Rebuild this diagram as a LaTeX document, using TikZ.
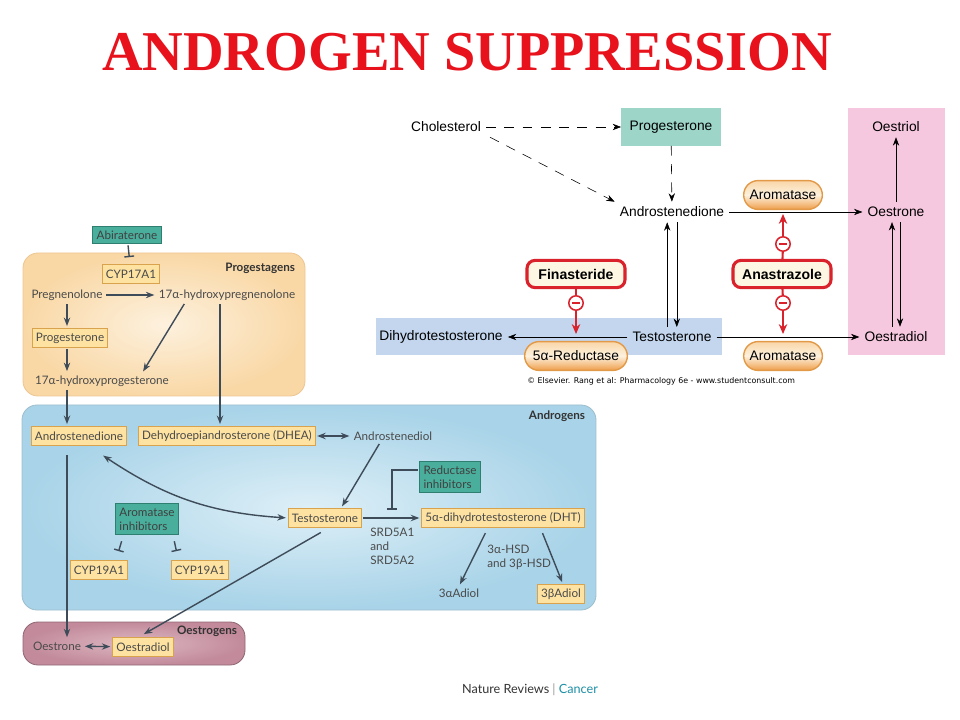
\documentclass[tikz,border=0pt]{standalone}
\usepackage{fontspec}
\setmainfont{Liberation Sans}
\newfontfamily\natfont{Lato}
\newfontfamily\titlefont{Liberation Serif}
\newfontfamily\creditfont{DejaVu Sans}
\usetikzlibrary{positioning,arrows.meta,calc,shapes.misc}

\definecolor{titlered}{HTML}{E8121C}
\definecolor{progteal}{HTML}{9DD5C8}
\definecolor{oestpink}{HTML}{F6C8DF}
\definecolor{dhtblue}{HTML}{C3D6EE}
\definecolor{inhred}{HTML}{D9222B}
\definecolor{drugfill}{HTML}{FDF6E2}
\definecolor{pillrim}{HTML}{E39A48}
\definecolor{pilltop}{HTML}{F9D6A8}
\definecolor{pillmid}{HTML}{FDF1DE}
\definecolor{pillbot}{HTML}{EE9E4A}
\definecolor{natarrow}{HTML}{3E4B58}
\definecolor{nattext}{HTML}{4A4A4A}
\definecolor{boxfill}{HTML}{FDE2A2}
\definecolor{boxrim}{HTML}{D9A24C}
\definecolor{tealfill}{HTML}{4AAE9C}
\definecolor{tealrim}{HTML}{2F7F70}
\definecolor{natteal}{HTML}{1C8FA6}
\definecolor{progin}{HTML}{FDF1DE}
\definecolor{progout}{HTML}{F9D8A6}
\definecolor{andin}{HTML}{DDEFF7}
\definecolor{andout}{HTML}{A8D3E8}
\definecolor{oestin}{HTML}{DDB7C1}
\definecolor{oestout}{HTML}{C28A9B}

\begin{document}
\begin{tikzpicture}[
  x=0.025cm, y=-0.025cm,
  >={Stealth[length=6pt,width=4.5pt]},
  plain/.style={font=\fontsize{9.8}{11}\selectfont,inner sep=3.5pt},
  pill/.style={rounded rectangle,draw=pillrim,line width=1pt,
               top color=pilltop,bottom color=pillbot,middle color=pillmid,
               minimum width=2.2cm,minimum height=0.72cm,
               font=\fontsize{9.8}{11}\selectfont},
  drug/.style={draw=inhred,line width=2.2pt,rounded corners=0.2cm,fill=drugfill,
               minimum width=2.45cm,minimum height=0.68cm,
               font=\fontsize{10}{12}\selectfont\bfseries},
  minus/.style={circle,draw=inhred,fill=white,line width=1.1pt,
                minimum size=0.36cm,inner sep=0pt},
  inhline/.style={draw=inhred,line width=1.5pt},
  ntext/.style={font=\natfont\fontsize{8.3}{10}\selectfont,text=nattext,inner sep=1.5pt},
  nbox/.style={ntext,fill=boxfill,draw=boxrim,line width=0.6pt,
               minimum height=0.47cm,inner xsep=2.5pt},
  tealbox/.style={ntext,fill=tealfill,draw=tealrim,line width=0.6pt,
                  text=black!75,align=left,inner sep=3pt},
  nlabel/.style={font=\natfont\fontsize{8.3}{10}\selectfont\bfseries,
                 text=black!80,anchor=east},
  narrow/.style={draw=natarrow,line width=1pt,shorten >=1.5pt,shorten <=1pt},
  panel/.style={rounded corners=0.375cm,line width=0.6pt}]

\useasboundingbox (0,0) rectangle (960,720);

% ============ Title ============
\node[font=\titlefont\bfseries\fontsize{40}{44}\selectfont,text=titlered]
  (title) at (467,52) {ANDROGEN SUPPRESSION};

% ============ Right: Rang et al. scheme ============
\fill[oestpink] (848,108) rectangle (945,355);
\fill[dhtblue] (376,318) rectangle (722,355);

\node[plain] (chol) at (446,127) {Cholesterol};
\node[plain,fill=progteal,minimum width=2.48cm,minimum height=0.93cm]
  (prog) at (671,127) {Progesterone};
\node[plain] (andro) at (672,212) {Androstenedione};
\node[plain] (testo) at (672,337) {Testosterone};
\node[plain] (dht) at (441,337) {Dihydrotestosterone};
\node[plain] (oestriol) at (896,127) {Oestriol};
\node[plain] (oestrone) at (896,212) {Oestrone};
\node[plain] (oestradiol) at (896,337) {Oestradiol};

% dashed routes from cholesterol
\draw[->,dashed,dash pattern=on 7pt off 6pt] (chol) -- (prog);
\draw[->,dashed,dash pattern=on 7pt off 6pt] ($(chol.south east)+(4,0)$) -- (andro.north west);
\draw[->,dashed,dash pattern=on 7pt off 6pt] (prog) -- (andro);

% interconversions
\draw[->] ([xshift=-0.12cm]testo.north) -- ([xshift=-0.12cm]andro.south);
\draw[->] ([xshift=0.12cm]andro.south) -- ([xshift=0.12cm]testo.north);
\draw[->] ([xshift=-0.1cm]oestradiol.north) -- ([xshift=-0.1cm]oestrone.south);
\draw[->] ([xshift=0.1cm]oestrone.south) -- ([xshift=0.1cm]oestradiol.north);
\draw[->] (oestrone) -- (oestriol);
\draw[->] (andro) -- (oestrone);
\draw[->] (testo) -- (oestradiol);
\draw[->] (testo) -- (dht);

% enzymes
\node[pill] (arom1) at (783,195) {Aromatase};
\node[pill] (arom2) at (783,356) {Aromatase};
\node[pill,minimum width=2.8cm] (red5) at (576,356) {5α-Reductase};

% drugs
\node[drug] (fin) at (576,274) {Finasteride};
\node[drug] (ana) at (782,274) {Anastrazole};
\node[minus] (mfin) at (576,303) {\color{inhred}\rule[-0.65pt]{6pt}{1.3pt}};
\node[minus] (mana1) at (783,244) {\color{inhred}\rule[-0.65pt]{6pt}{1.3pt}};
\node[minus] (mana2) at (783,303) {\color{inhred}\rule[-0.65pt]{6pt}{1.3pt}};
\coordinate (finhit) at (576,334);
\coordinate (anahit1) at (783,214);
\coordinate (anahit2) at (783,334);
\draw[inhline] (fin) -- (mfin);
\draw[inhline,-{Stealth[length=7pt,width=6pt]}] (mfin) -- (finhit);
\draw[inhline] (ana) -- (mana1);
\draw[inhline,-{Stealth[length=7pt,width=6pt]}] (mana1) -- (anahit1);
\draw[inhline] (ana) -- (mana2);
\draw[inhline,-{Stealth[length=7pt,width=6pt]}] (mana2) -- (anahit2);

\node[font=\creditfont\fontsize{5.6}{7}\selectfont,anchor=west,inner sep=0pt]
  (credit) at (527,381) {© Elsevier. Rang et al: Pharmacology 6e - www.studentconsult.com};

% ============ Left: Nature Reviews scheme ============
% panels
\shade[panel,draw=progout!80!brown,inner color=progin,outer color=progout]
  (23,253) rectangle (305,396);
\shade[panel,draw=andout!75!gray,inner color=andin,outer color=andout]
  (22,405) rectangle (596,610);
\shade[panel,draw=oestout!75!black,inner color=oestin,outer color=oestout]
  (23,622) rectangle (245,665);

% Progestagens
\node[tealbox] (abir) at (127,235) {Abiraterone};
\node[nbox] (cyp17) at (131,274) {CYP17A1};
\node[ntext] (preg) at (67,295) {Pregnenolone};
\node[ntext] (ohpreg) at (227,295) {17α-hydroxypregnenolone};
\node[nbox] (nprog) at (70,338) {Progesterone};
\node[ntext] (ohprog) at (102,381) {17α-hydroxyprogesterone};
\node[nlabel] (proglabel) at (300,268) {Progestagens};

% Androgens
\node[nbox] (landro) at (79,436) {Androstenedione};
\node[nbox] (dhea) at (227,436) {Dehydroepiandrosterone (DHEA)};
\node[ntext] (adiol) at (393,436) {Androstenediol};
\node[nbox] (ltesto) at (325,518) {Testosterone};
\node[nbox] (ldht) at (503,518) {5α-dihydrotestosterone (DHT)};
\node[tealbox] (redinh) at (450,477) {Reductase\\inhibitors};
\node[tealbox] (arominh) at (147,519) {Aromatase\\inhibitors};
\node[nbox] (cypa) at (99,570) {CYP19A1};
\node[nbox] (cypb) at (200,570) {CYP19A1};
\node[ntext,align=left,anchor=north west] (srd) at (368,526) {SRD5A1\\and\\SRD5A2};
\node[ntext,align=left,anchor=west] (hsd) at (485,557) {3α-HSD\\and 3β-HSD};
\node[ntext] (aadiol) at (459,593) {3αAdiol};
\node[nbox] (badiol) at (561,594) {3βAdiol};
\node[nlabel] (andlabel) at (590,416) {Androgens};

% Oestrogens
\node[ntext] (loestrone) at (57,646) {Oestrone};
\node[nbox] (loestradiol) at (143,647) {Oestradiol};
\node[nlabel] (oestlabel) at (242,631) {Oestrogens};

% connectors
\draw[narrow,-{Bar[width=7pt]},shorten >=5pt] (abir) -- (cyp17);
\draw[narrow,->] (preg) -- (ohpreg);
\draw[narrow,->] (preg) -- (preg |- nprog.north);
\draw[narrow,->] (nprog.south -| preg) -- (ohprog.north -| preg);
\draw[narrow,->] ($(ohpreg.south)+(-42,0)$) -- ($(ohprog.north)+(40,0)$);
\draw[narrow,->] ($(ohpreg.south)+(-7,0)$) -- ($(dhea.north)+(-7,0)$);
\draw[narrow,->] ($(ohprog.south)+(-35,0)$) -- ($(landro.north)+(-12,0)$);
\draw[narrow,<->] (dhea) -- (adiol);
\draw[narrow,->] ($(adiol.south)+(-13,0)$) -- ($(ltesto.north)+(16,0)$);
\draw[narrow,<->] ($(landro.south)+(23,9)$) to[bend right=15] (ltesto.west);
\draw[narrow,->] (ltesto) -- (ldht);
\coordinate (redhit) at (392,512);
\draw[narrow,-{Bar[width=7pt]}] ($(redinh.west)+(0,-7)$) -| (redhit);
\draw[narrow,-{Bar[width=7pt]}] ($(arominh.south)+(-25,5)$) -- ($(cypa.north east)+(-10,-7)$);
\draw[narrow,-{Bar[width=7pt]}] ($(arominh.south)+(27,5)$) -- ($(cypb.north west)+(6,-7)$);
\draw[narrow,->] ($(ldht.south)+(-17,4)$) -- (aadiol.north);
\draw[narrow,->] ($(ldht.south)+(39,4)$) -- ($(badiol.north)+(2,0)$);
\draw[narrow,->] ($(landro.south)+(-12,8)$) -- ($(loestrone.north)+(10,0)$);
\draw[narrow,->] ($(ltesto.south)+(-3,4)$) -- ($(loestradiol.north)+(-1,-2)$);
\draw[narrow,<->] (loestrone) -- (loestradiol);

\node[font=\natfont\fontsize{9}{11}\selectfont] (natrev) at (530,690)
  {\textcolor{black!80}{Nature Reviews} \textcolor{black!40}{|} \textcolor{natteal}{Cancer}};

\end{tikzpicture}
\end{document}
